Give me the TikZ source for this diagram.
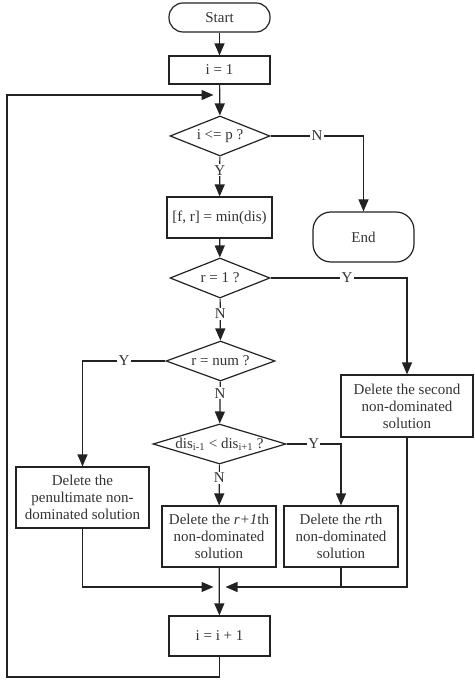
\documentclass[tikz,border=0pt]{standalone}
\usepackage{fontspec}
\setmainfont{Liberation Serif}
\usetikzlibrary{shapes.geometric,arrows.meta}
\definecolor{lc}{HTML}{222222}
\definecolor{tc}{HTML}{333333}
\begin{document}
\begin{tikzpicture}[x=1pt,y=-1pt,
  base/.style={draw=lc, line width=1.2pt, inner sep=0pt, align=center, text=tc,
    font=\fontsize{15}{17}\selectfont},
  box/.style={base, rectangle},
  term/.style={base, rectangle, rounded corners=14pt},
  dec/.style={base, diamond, aspect=3.3},
  lab/.style={fill=white, inner sep=1.2pt, text=tc, font=\fontsize{15}{15}\selectfont},
  ln/.style={draw=lc, line width=1.2pt},
  arr/.style={ln, -{Triangle[length=12pt,width=10pt]}}]
\useasboundingbox (0,0) rectangle (474,700);
\node[term, minimum width=101pt, minimum height=29pt] (start) at (219.5,17.5) {Start};
\node[box, minimum width=101pt, minimum height=28pt] (i1) at (219.5,70) {i = 1};
\node[dec, minimum width=100pt, minimum height=40pt] (c1) at (220,136) {i <= p ?};
\node[term, rounded corners=18pt, minimum width=101pt, minimum height=50pt] (end) at (363.5,237) {End};
\node[box, minimum width=105pt, minimum height=41pt] (b1) at (219.5,217.5) {[f, r] = min(dis)};
\node[dec, minimum width=100pt, minimum height=40pt] (c2) at (220,278) {r = 1 ?};
\node[box, minimum width=132pt, minimum height=62pt] (del2) at (407,406) {Delete the second\\non-dominated\\solution};
\node[dec, minimum width=109pt, minimum height=40pt] (c3) at (220.5,361) {r = num ?};
\node[dec, minimum width=133pt, minimum height=40pt] (c4) at (219.5,444) {dis\textsubscript{i-1} < dis\textsubscript{i+1} ?};
\node[box, minimum width=133pt, minimum height=61pt] (delp) at (82.5,497.5) {Delete the\\penultimate non-\\dominated solution};
\node[box, minimum width=114pt, minimum height=61pt] (delr1) at (219,536.5) {Delete the \textit{r+1}th\\non-dominated\\solution};
\node[box, minimum width=114pt, minimum height=61pt] (delr) at (341,536.5) {Delete the \textit{r}th\\non-dominated\\solution};
\node[box, minimum width=101pt, minimum height=40pt] (inc) at (219.5,636) {i = i + 1};
\coordinate (mL) at (213.5,587);
\coordinate (mR) at (225.5,587);
\coordinate (lp) at (213.5,95);
\coordinate (bl) at (7,677);
\draw[arr] (start) -- (i1);
\draw[arr] (i1) -- (c1);
\draw[arr] (c1.east) -| node[lab,pos=0.25]{N} (end.north);
\draw[arr] (c1) -- node[lab,pos=0.34]{Y} (b1);
\draw[arr] (b1) -- (c2);
\draw[arr] (c2.east) -| node[lab,pos=0.28]{Y} (del2.north);
\draw[arr] (c2) -- node[lab,pos=0.37]{N} (c3);
\draw[arr] (c3.west) -| node[lab,pos=0.25]{Y} (delp.north);
\draw[arr] (c3) -- node[lab,pos=0.28]{N} (c4);
\draw[arr] (c4.east) -| node[lab,pos=0.25]{Y} (delr.north);
\draw[arr] (c4) -- node[lab,pos=0.33]{N} (delr1);
\draw[arr] (delr1) -- (inc);
\draw[arr] (delp.south) |- (mL);
\draw[ln] (delr.south) -- (delr.south |- mR);
\draw[arr] (del2.south) |- (mR);
\draw[arr] (inc.south) |- (bl) |- (lp);
\end{tikzpicture}
\end{document}
